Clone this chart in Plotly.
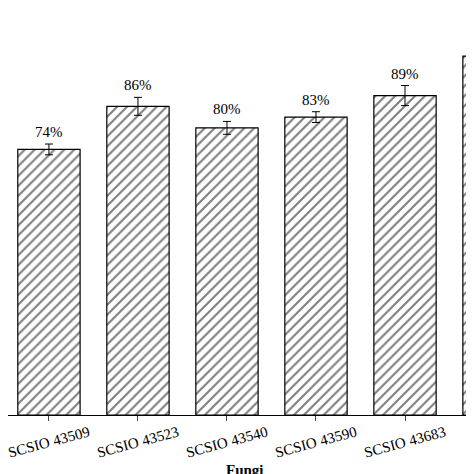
import plotly.graph_objects as go

fungi = ['SCSIO 43509', 'SCSIO 43523', 'SCSIO 43540', 'SCSIO 43590', 'SCSIO 43683', 'Mixture']
rates = [74, 86, 80, 83, 89, 100]
errors = [1.5, 2.5, 1.8, 1.5, 2.8, 2.5]
labels = ['74%', '86%', '80%', '83%', '89%', '100%']

fig = go.Figure()
fig.add_trace(go.Bar(
    x=list(range(len(fungi))), y=rates, width=0.7,
    marker=dict(color='white', line=dict(color='black', width=1.2),
                pattern=dict(shape='/', fgcolor='black', bgcolor='white', size=7, solidity=0.3)),
    error_y=dict(type='data', array=errors, color='black', thickness=1, width=4),
))

# value labels above the error bars
for i, (r, e, t) in enumerate(zip(rates, errors, labels)):
    fig.add_annotation(x=i, y=r + e, text=t, showarrow=False, yanchor='bottom', yshift=2,
                       font=dict(size=15))

# rotated category labels, centred under each bar
for i, name in enumerate(fungi):
    fig.add_annotation(x=i, y=0, yref='paper', text=name, showarrow=False, textangle=-15,
                       yanchor='top', yshift=-6, font=dict(size=15))

fig.add_annotation(x=0.5, xref='paper', y=0, yref='paper', yshift=-45, yanchor='top',
                   text='<b>Fungi</b>', showarrow=False, font=dict(size=15))

fig.update_layout(
    width=474, height=474, margin=dict(l=0, r=0, t=0, b=67),
    plot_bgcolor='white', paper_bgcolor='white', showlegend=False,
    font=dict(family='Liberation Serif', color='black'),
)
fig.update_xaxes(range=[-0.46, 4.865], tickvals=list(range(len(fungi))), showticklabels=False,
                 ticks='outside', ticklen=5, showline=True, linecolor='black', automargin=False)
fig.update_yaxes(range=[0, 113.4], visible=False, automargin=False)

fig.write_html('out.html')
